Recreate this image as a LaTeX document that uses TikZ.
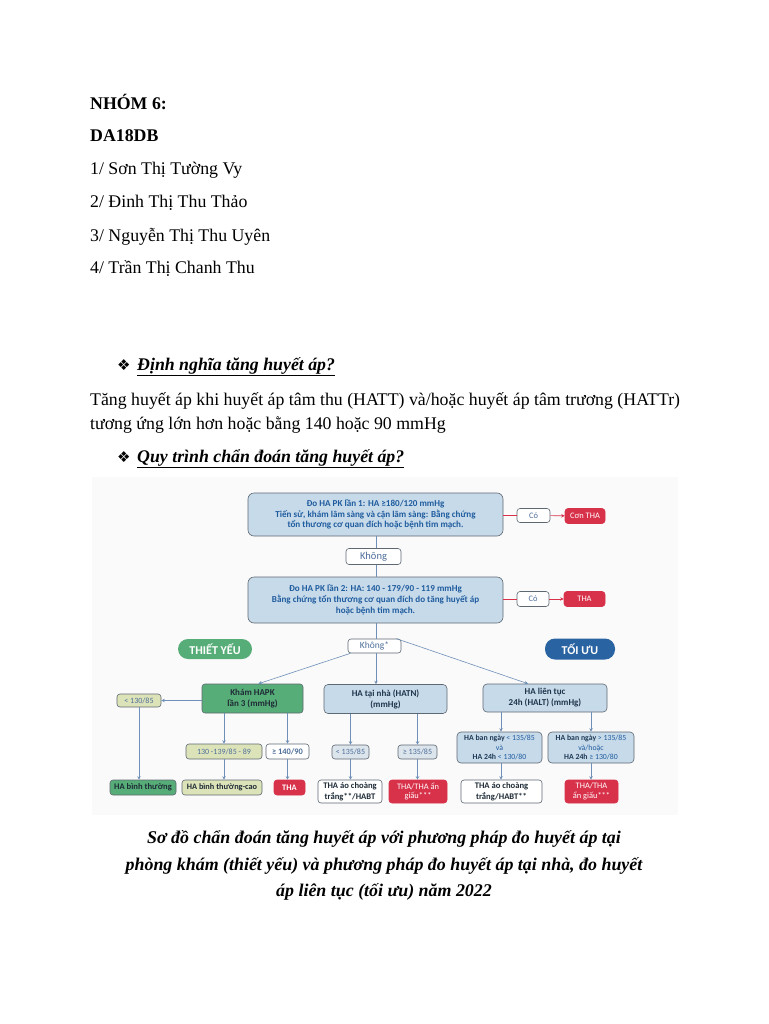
\documentclass[tikz,border=0pt]{standalone}
\usepackage{fontspec}
\setmainfont{Liberation Serif}
\newfontfamily\chartfont{Carlito}
\newfontfamily\dingfont{DejaVu Sans}
\usetikzlibrary{arrows.meta,calc}

\definecolor{boxblue}{HTML}{C7DAEA}
\definecolor{boxedge}{HTML}{5E6872}
\definecolor{txtblue}{HTML}{1F5C9E}
\definecolor{thared}{HTML}{D8314A}
\definecolor{okgreen}{HTML}{57AD78}
\definecolor{olivefill}{HTML}{DDE3B9}
\definecolor{paleblue}{HTML}{DCE4EC}
\definecolor{optblue}{HTML}{2A63A2}
\definecolor{linkblue}{HTML}{6E8FB8}
\definecolor{valtxt}{HTML}{4D6E9A}
\definecolor{darktxt}{HTML}{1E2B36}

\begin{document}
\begin{tikzpicture}[x=1pt,y=-1pt,>={Stealth[length=3.5pt,width=3.5pt]},
  txt/.style={anchor=base west,inner sep=0pt,font=\fontsize{17.8}{20}\selectfont},
  head/.style={txt,font=\fontsize{17.8}{20}\selectfont\bfseries\itshape},
  captext/.style={anchor=base,inner sep=0pt,font=\fontsize{17.9}{20}\selectfont\bfseries\itshape},
  b/.style={draw=boxedge,rounded corners=3pt,align=center,inner sep=0pt,line width=0.6pt,
    font=\chartfont\bfseries\fontsize{8.6}{10.6}\selectfont},
  big/.style={b,rounded corners=6pt,fill=boxblue,text=txtblue},
  ans/.style={b,fill=white,text=valtxt,font=\chartfont\fontsize{8.4}{10}\selectfont},
  res/.style={b,fill=thared,draw=thared,text=white,font=\chartfont\fontsize{8.4}{9.6}\selectfont},
  grn/.style={b,fill=okgreen,text=darktxt},
  oli/.style={b,fill=olivefill,text=valtxt,font=\chartfont\fontsize{8}{10}\selectfont},
  val/.style={b,fill=paleblue,text=valtxt,font=\chartfont\fontsize{8}{10}\selectfont},
  wht/.style={b,fill=white,text=darktxt},
  pill/.style={rounded corners=10pt,inner sep=0pt,text=white,font=\chartfont\bfseries\fontsize{12}{14}\selectfont},
  lnk/.style={draw=linkblue,line width=0.6pt},
  alarm/.style={draw=thared,line width=0.6pt}]
  \useasboundingbox (0,0) rectangle (768,1024);
  \fill[white] (0,0) rectangle (768,1024);

  % group and names
  \node[txt,font=\fontsize{17.8}{20}\selectfont\bfseries] (group) at (90,110) {NHÓM 6:};
  \node[txt,font=\fontsize{17.8}{20}\selectfont\bfseries] (class) at (90,142) {DA18DB};
  \node[txt] (m1) at (90,175) {1/ Sơn Thị Tường Vy};
  \node[txt] (m2) at (90,208) {2/ Đinh Thị Thu Thảo};
  \node[txt] (m3) at (90,241) {3/ Nguyễn Thị Thu Uyên};
  \node[txt] (m4) at (90,273) {4/ Trần Thị Chanh Thu};

  % definition
  \node[txt,font=\dingfont\fontsize{15}{16}\selectfont] (dot1) at (117,370) {❖};
  \node[head] (defq) at (137,370) {\underline{Định nghĩa tăng huyết áp?}};
  \node[txt] (def1) at (90,405) {Tăng huyết áp khi huyết áp tâm thu (HATT) và/hoặc huyết áp tâm trương (HATTr)};
  \node[txt] (def2) at (90,429) {tương ứng lớn hơn hoặc bằng 140 hoặc 90 mmHg};
  \node[txt,font=\dingfont\fontsize{15}{16}\selectfont] (dot2) at (117,462) {❖};
  \node[head] (procq) at (137,462) {\underline{Quy trình chẩn đoán tăng huyết áp?}};

  % flowchart
  \fill[black!2] (92,477) rectangle (678,815);
  \node[big,minimum width=255,minimum height=43,font=\chartfont\bfseries\fontsize{9.1}{10.8}\selectfont] (pk1) at (375.5,514.5)
    {Đo HA PK lần 1: HA ≥180/120 mmHg\\ Tiến sử, khám lâm sàng và cận lâm sàng: Bằng chứng\\ tổn thương cơ quan đích hoặc bệnh tim mạch.};
  \node[ans,minimum width=33,minimum height=14] (co1) at (533.5,515.5) {Có};
  \node[res,minimum width=40,minimum height=15] (con) at (585,516) {Cơn THA};
  \node[ans,minimum width=55,minimum height=16,font=\chartfont\fontsize{10.5}{12}\selectfont] (khong1) at (373.5,556.5) {Không};
  \node[big,minimum width=255,minimum height=46,font=\chartfont\bfseries\fontsize{9.1}{10.8}\selectfont] (pk2) at (375.5,600)
    {Đo HA PK lần 2: HA: 140 - 179/90 - 119 mmHg\\ Bằng chứng tổn thương cơ quan đích do tăng huyết áp\\ hoặc bệnh tim mạch.};
  \node[ans,minimum width=32,minimum height=15] (co2) at (533,599) {Có};
  \node[res,minimum width=41,minimum height=15] (tha1) at (584.5,599) {THA};
  \node[ans,minimum width=53,minimum height=14,font=\chartfont\fontsize{9.5}{11}\selectfont] (khong2) at (374.5,646) {Không*};
  \node[pill,fill=okgreen,minimum width=74,minimum height=20] (basic) at (215,649) {THIẾT YẾU};
  \node[pill,fill=optblue,minimum width=70,minimum height=21] (best) at (580,649) {TỐI ƯU};

  \node[grn,minimum width=101,minimum height=29,font=\chartfont\bfseries\fontsize{9}{11}\selectfont] (hapk) at (252.5,698.5) {Khám HAPK\\ lần 3 (mmHg)};
  \node[big,rounded corners=4pt,minimum width=123,minimum height=29,text=darktxt!80!txtblue,font=\chartfont\bfseries\fontsize{9}{11}\selectfont] (hatn) at (385.5,699) {HA tại nhà (HATN)\\ (mmHg)};
  \node[big,rounded corners=4pt,minimum width=124,minimum height=28,text=darktxt!80!txtblue,font=\chartfont\bfseries\fontsize{9}{11}\selectfont] (halt) at (545,698) {HA liên tục\\ 24h (HALT) (mmHg)};

  \node[oli,minimum width=44,minimum height=13] (low1) at (139,700.5) {< 130/85};
  \node[oli,minimum width=76,minimum height=15] (mid) at (224,751.5) {130 -139/85 - 89};
  \node[ans,minimum width=43,minimum height=15,font=\chartfont\bfseries\fontsize{8.4}{10}\selectfont] (high) at (287.5,751.5) {≥ 140/90};
  \node[grn,minimum width=66,minimum height=15] (normal) at (143,787.5) {HA bình thường};
  \node[oli,minimum width=80,minimum height=15,text=darktxt,font=\chartfont\bfseries\fontsize{8.3}{10}\selectfont] (normhigh) at (222,787.5) {HA bình thường-cao};
  \node[res,minimum width=31,minimum height=15,font=\chartfont\bfseries\fontsize{8.4}{10}\selectfont] (tha2) at (289.5,787.5) {THA};

  \node[val,minimum width=37,minimum height=14] (hl) at (350.5,752) {< 135/85};
  \node[val,minimum width=39,minimum height=14] (hh) at (417.5,752) {≥ 135/85};
  \node[wht,minimum width=64,minimum height=23] (wc1) at (350,791.5) {THA áo choàng\\ trắng**/HABT};
  \node[res,minimum width=58,minimum height=23] (mh1) at (418,791.5) {THA/THA ẩn\\ giấu***};

  \node[big,rounded corners=4pt,minimum width=85,minimum height=31,font=\chartfont\fontsize{7.8}{9.6}\selectfont] (dl) at (499.5,747.5)
    {\textbf{\color{darktxt!70!txtblue}HA ban ngày} < 135/85\\ và\\ \textbf{\color{darktxt!70!txtblue}HA 24h} < 130/80};
  \node[big,rounded corners=4pt,minimum width=86,minimum height=31,font=\chartfont\fontsize{7.8}{9.6}\selectfont] (dh) at (591,747.5)
    {\textbf{\color{darktxt!70!txtblue}HA ban ngày} > 135/85\\ và/hoặc\\ \textbf{\color{darktxt!70!txtblue}HA 24h} ≥ 130/80};
  \node[wht,minimum width=81,minimum height=23] (wc2) at (501.5,791.5) {THA áo choàng\\ trắng/HABT**};
  \node[res,minimum width=53,minimum height=23] (mh2) at (591.5,791.5) {THA/THA\\ ẩn giấu***};

  % connectors
  \draw[alarm] (pk1.east|-co1) -- (co1); \draw[alarm,->] (co1) -- (con);
  \draw[alarm] (pk2.east|-co2) -- (co2); \draw[alarm,->] (co2) -- (tha1);
  \draw[lnk] ([xshift=2.5pt]khong1.north|-pk1.south) -- ([xshift=2.5pt]khong1.north);
  \draw[lnk] ([xshift=2.5pt]khong1.south) -- ([xshift=2.5pt]khong1.south|-pk2.north);
  \draw[lnk] ([xshift=1.5pt]khong2.north|-pk2.south) -- ([xshift=1.5pt]khong2.north);
  \draw[lnk,->] ([xshift=-24pt]khong2.south) -- ([xshift=6pt]hapk.north);
  \draw[lnk,->] ([xshift=1.5pt]khong2.south) -- ([xshift=1.5pt]khong2.south|-hatn.north);
  \draw[lnk,->] ([xshift=22pt]khong2.north) -- ([xshift=-17pt]halt.north);
  \draw[lnk,->] (hapk.west|-low1) -- (low1.east);
  \draw[lnk,->] (low1) -- (low1|-normal.north);
  \draw[lnk,->] (mid|-hapk.south) -- (mid.north);
  \draw[lnk,->] (high|-hapk.south) -- (high.north);
  \draw[lnk,->] (mid) -- (mid|-normhigh.north);
  \draw[lnk,->] (high) -- (high|-tha2.north);
  \draw[lnk,->] (hl|-hatn.south) -- (hl.north);
  \draw[lnk,->] (hh|-hatn.south) -- (hh.north);
  \draw[lnk,->] (hl) -- (hl|-wc1.north);
  \draw[lnk,->] (hh) -- (hh|-mh1.north);
  \draw[lnk,->] ([xshift=1.5pt]dl.north|-halt.south) -- ([xshift=1.5pt]dl.north);
  \draw[lnk,->] (dh|-halt.south) -- (dh.north);
  \draw[lnk,->] ([xshift=1.5pt]dl.south) -- ([xshift=1.5pt]dl.south|-wc2.north);
  \draw[lnk,->] (dh) -- (dh|-mh2.north);

  % caption
  \node[captext] (cap1) at (384,843) {Sơ đồ chẩn đoán tăng huyết áp với phương pháp đo huyết áp tại};
  \node[captext] (cap2) at (384,870) {phòng khám (thiết yếu) và phương pháp đo huyết áp tại nhà, đo huyết};
  \node[captext] (cap3) at (384,896) {áp liên tục (tối ưu) năm 2022};
\end{tikzpicture}
\end{document}
